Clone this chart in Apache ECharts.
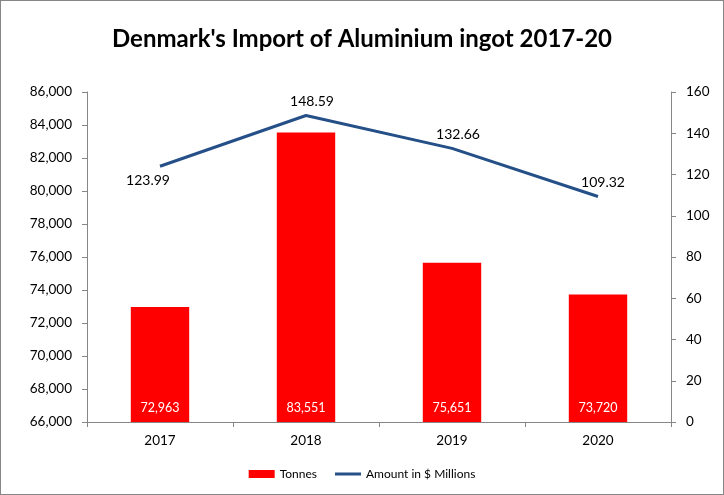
<!DOCTYPE html>
<html>
<head>
<meta charset="utf-8">
<script src="https://cdn.jsdelivr.net/npm/echarts@6/dist/echarts.min.js"></script>
<style>
  html, body { margin: 0; padding: 0; background: #fff; }
  #chart { width: 722px; height: 493px; border: 1px solid #868686; }
</style>
</head>
<body>
<div id="chart"></div>
<script>
const years = ['2017', '2018', '2019', '2020']
const tonnes = [72963, 83551, 75651, 73720]
const amount = [123.99, 148.59, 132.66, 109.32]
// label placement for each line point
const amountLabelPos = ['bottom', 'top', 'top', 'top']
const amountLabelOffset = [[-12, 0], [6, 0], [6, 0], [5, 0]]

const chart = echarts.init(document.getElementById('chart'))
const fmt = v => Number(v).toLocaleString('en-US')
const axisGray = '#868686'
const lineBlue = '#254f87'
const font = 'Lato, "DejaVu Sans", sans-serif'

const options = {
  animation: false,
  textStyle: { fontFamily: font },
  title: {
    text: "Denmark's Import of Aluminium ingot 2017-20",
    left: 'center',
    top: 21,
    textStyle: { fontSize: 24, fontWeight: 'bold', color: '#000', fontFamily: font }
  },
  legend: {
    bottom: 9,
    left: 'center',
    itemGap: 18,
    itemWidth: 26,
    itemHeight: 8,
    textStyle: { fontSize: 12, color: '#000' },
    data: [
      { name: 'Tonnes', icon: 'rect' },
      { name: 'Amount in $ Millions', icon: 'path://M0,0 L26,0 L26,3 L0,3 Z' }
    ]
  },
  grid: { left: 86, right: 52, top: 91, bottom: 72 },
  xAxis: {
    type: 'category',
    data: years,
    axisLine: { lineStyle: { color: axisGray } },
    axisTick: { show: true, length: 5, lineStyle: { color: axisGray } },
    axisLabel: { color: '#000', fontSize: 13.5, margin: 12 }
  },
  yAxis: [
    {
      type: 'value',
      min: 66000,
      max: 86000,
      interval: 2000,
      splitLine: { show: false },
      axisLine: { show: true, lineStyle: { color: axisGray } },
      axisTick: { show: true, length: 5, lineStyle: { color: axisGray } },
      axisLabel: { color: '#000', fontSize: 13.5, margin: 15, formatter: fmt }
    },
    {
      type: 'value',
      min: 0,
      max: 160,
      interval: 20,
      splitLine: { show: false },
      axisLine: { show: true, lineStyle: { color: axisGray } },
      axisTick: { show: true, length: 5, lineStyle: { color: axisGray } },
      axisLabel: { color: '#000', fontSize: 13.5, margin: 15 }
    }
  ],
  series: [
    {
      name: 'Tonnes',
      type: 'bar',
      barWidth: '40%',
      itemStyle: { color: '#ff0000' },
      label: {
        show: true,
        position: 'insideBottom',
        distance: 8,
        color: '#fff',
        fontSize: 12.5,
        formatter: p => fmt(p.value)
      },
      data: tonnes
    },
    {
      name: 'Amount in $ Millions',
      type: 'line',
      yAxisIndex: 1,
      symbol: 'circle',
      symbolSize: 0.1,
      lineStyle: { color: lineBlue, width: 3 },
      itemStyle: { color: lineBlue },
      label: { show: true, color: '#000', fontSize: 14 },
      data: amount.map((v, i) => ({
        value: v,
        label: { position: amountLabelPos[i], distance: 7, offset: amountLabelOffset[i] }
      }))
    }
  ]
}

chart.setOption(options)
</script>
</body>
</html>
